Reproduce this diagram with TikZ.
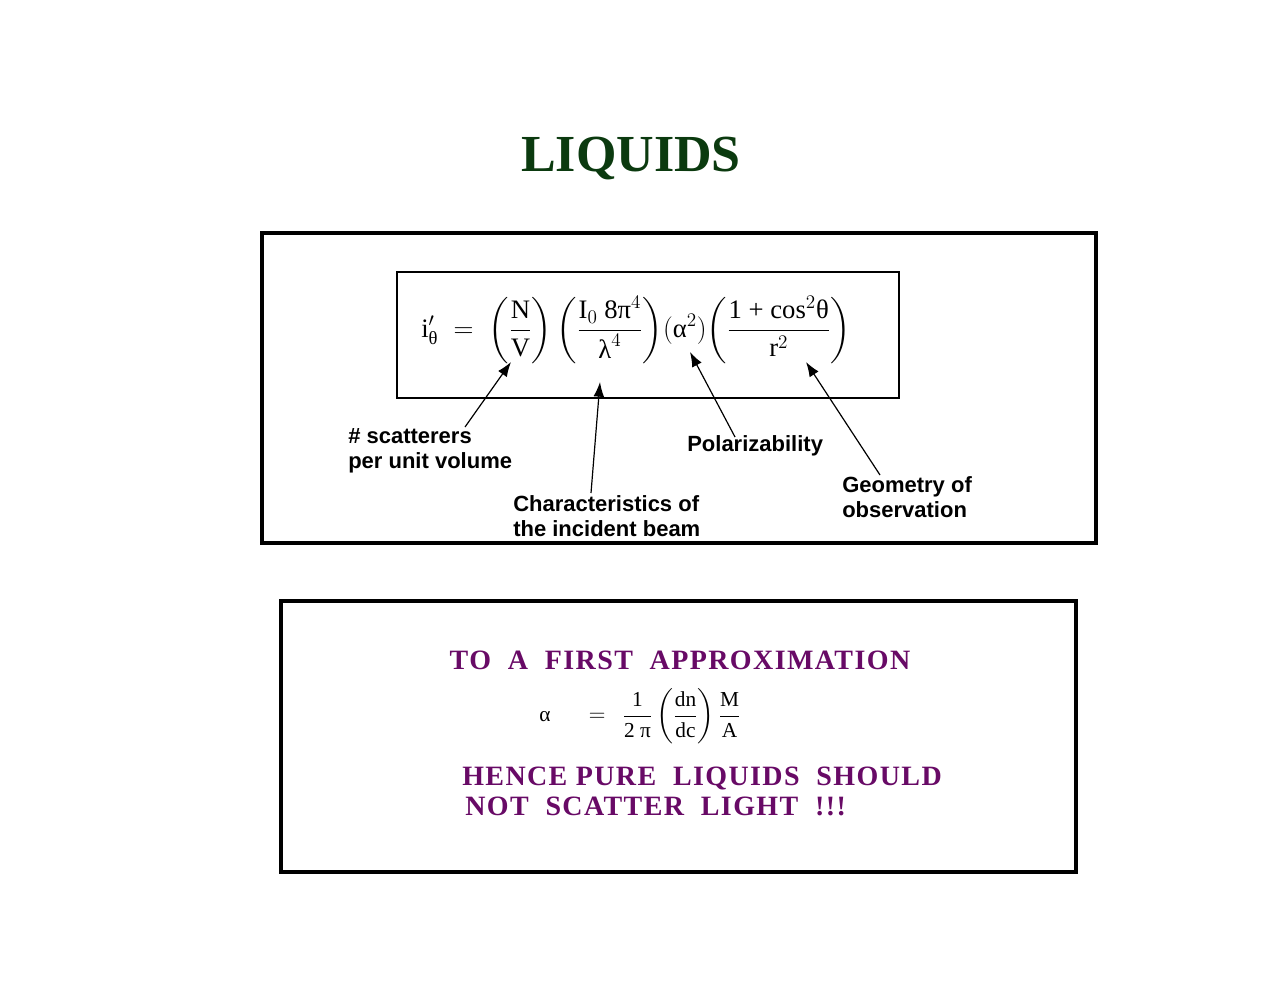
\documentclass[tikz,border=0pt]{standalone}
\usetikzlibrary{arrows.meta}
\usepackage{amsmath}
\usepackage{fontspec}
\setmainfont{Liberation Serif}
\newfontfamily\lsans{Liberation Sans}
\newfontfamily\pspaced[LetterSpace=5]{Liberation Serif}
\definecolor{tgreen}{HTML}{0B3A0F}
\definecolor{tpurple}{HTML}{680A66}
\newcommand{\tx}[1]{\text{#1}}
\begin{document}
\begin{tikzpicture}[x=0.75pt,y=-0.75pt,
  lbl/.style={font=\lsans\bfseries\fontsize{16.5}{19}\selectfont,align=left,inner sep=0pt},
  ptxt/.style={font=\pspaced\bfseries\fontsize{21}{24}\selectfont,text=tpurple,inner sep=0pt},
  arr/.style={-{Latex[length=11pt,width=8pt]},line width=0.9pt}]
\useasboundingbox (0,0) rectangle (1280,989);
\node[font=\bfseries\fontsize{39}{44}\selectfont,text=tgreen] (title) at (631,158) {LIQUIDS};
\draw[line width=2.4pt] (262,233) rectangle (1096,543);
\draw[line width=1.1pt] (397,272) rectangle (899,398);
\node[font=\fontsize{20}{24}\selectfont] (eq) at (636,330) {$\displaystyle
 \tx{i}'_{\tx{θ}} \;=\; \left(\frac{\tx{N}}{\tx{V}}\right)\left(\frac{\tx{I}_0\ \tx{8π}^4}{\tx{λ}^4}\right)\!(\tx{α}^2)\!\left(\frac{\tx{1 + cos}^2\tx{θ}}{\tx{r}^2}\right)$};
\node[lbl,anchor=north west] (l1) at (348,428) {\# scatterers\\per unit volume};
\node[lbl,anchor=north west] (l2) at (513,495) {Characteristics of\\the incident beam};
\node[lbl,anchor=west] (l3) at (687,446) {Polarizability};
\node[lbl,anchor=north west] (l4) at (842,476) {Geometry of\\observation};
\coordinate (t1) at (511,362); \coordinate (t2) at (600,382);
\coordinate (t3) at (690,352); \coordinate (t4) at (806,362);
\draw[arr] (465,427) -- (t1);
\draw[arr] (591,493) -- (t2);
\draw[arr] (735,437) -- (t3);
\draw[arr] (880,475) -- (t4);
\draw[line width=2.4pt] (281,601) rectangle (1076,872);
\node[ptxt] (p1) at (680,660) {TO\ \ A\ \ FIRST\ \ APPROXIMATION};
\node[font=\fontsize{16}{19}\selectfont,inner sep=0pt] (ae) at (640,716) {$\displaystyle\tx{α}\quad\ \ =\ \ \frac{\tx{1}}{\tx{2 π}}\left(\frac{\tx{dn}}{\tx{dc}}\right)\frac{\tx{M}}{\tx{A}}$};
\node[ptxt,anchor=west] (p2) at (462,778) {HENCE\ PURE\ \ LIQUIDS\ \ SHOULD};
\node[ptxt,anchor=west] (p3) at (465,806) {NOT\ \ SCATTER\ \ LIGHT\ \ !!!};
\end{tikzpicture}
\end{document}
